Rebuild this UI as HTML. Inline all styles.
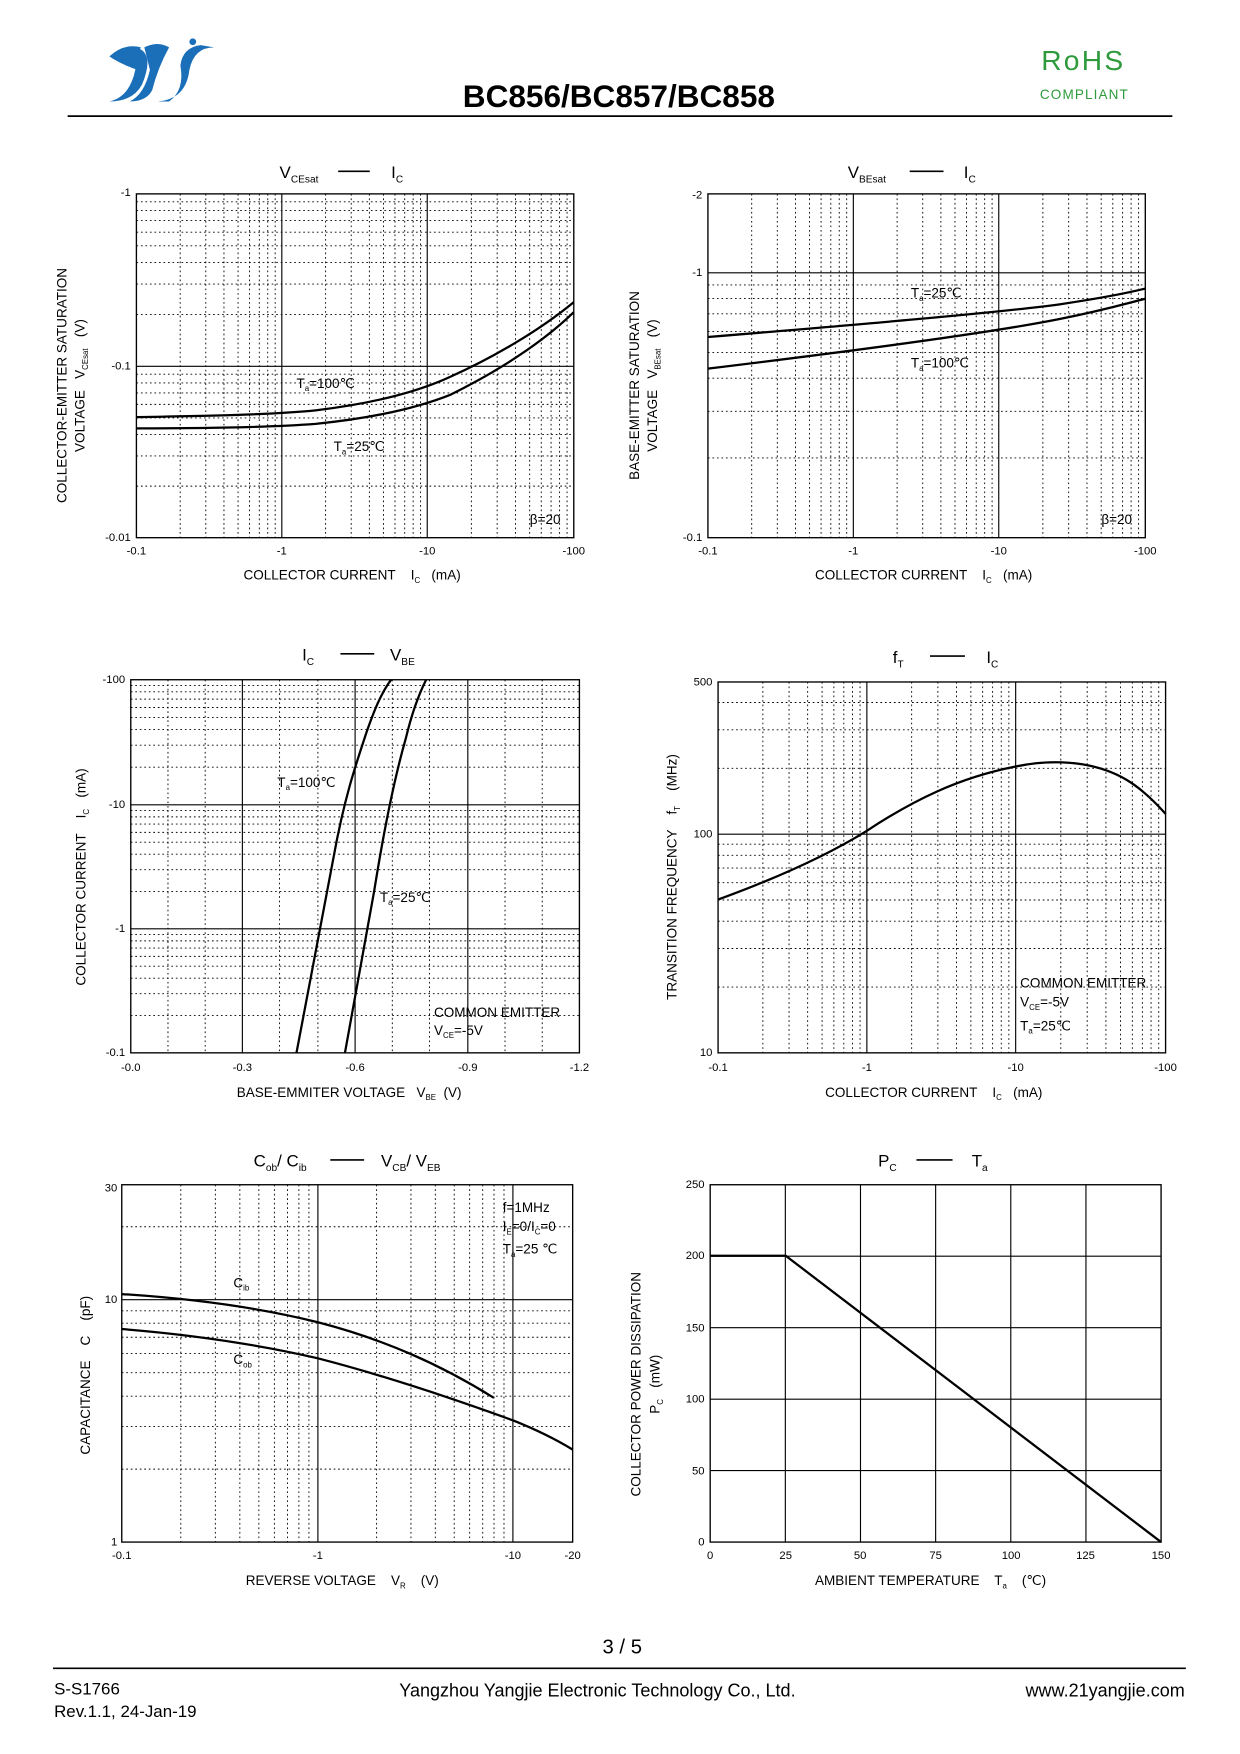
<!DOCTYPE html>
<html><head><meta charset="utf-8"><style>
html,body{margin:0;padding:0;background:#fff}
svg{display:block}
text{font-family:"Liberation Sans",sans-serif;fill:#000}
</style></head><body>
<svg id="s" width="1240" height="1754" viewBox="0 0 1100 1556" xmlns="http://www.w3.org/2000/svg">
<g id="grid"></g>
<!-- header -->
<path d="M97,50 Q110,38 125,42 Q118,55 122,62 Q110,58 100,52 Z M120,42 Q138,46 126,75 Q118,90 97,90 Q115,86 120,62 Z" fill="#1a6fb8"/>
<path d="M128,42 Q140,36 150,42 Q140,60 135,80 Q130,90 115,90 Q128,84 133,62 Z" fill="#1a6fb8"/>
<path d="M150,90 Q164,80 160,58 Q162,42 178,40 L190,42 Q172,42 168,62 Q165,88 140,90 Z" fill="#1a6fb8"/>
<circle cx="171" cy="37" r="3" fill="#1a6fb8"/>
<text x="549" y="95" font-size="28" font-weight="bold" text-anchor="middle">BC856/BC857/BC858</text>
<text x="961" y="62" font-size="25" text-anchor="middle" style="fill:#2e9a3c;letter-spacing:2px">RoHS</text>
<text x="962" y="88" font-size="12" text-anchor="middle" style="fill:#2e9a3c;letter-spacing:1px">COMPLIANT</text>
<line x1="60" y1="103" x2="1040" y2="103" stroke="#000" stroke-width="1.5"/>
<!-- footer -->
<text x="552" y="1467" font-size="18" text-anchor="middle">3 / 5</text>
<line x1="47" y1="1480" x2="1052" y2="1480" stroke="#000" stroke-width="1.5"/>
<text x="48" y="1503" font-size="15">S-S1766</text>
<text x="48" y="1523" font-size="15">Rev.1.1, 24-Jan-19</text>
<text x="530" y="1505" font-size="16" text-anchor="middle">Yangzhou Yangjie Electronic Technology Co., Ltd.</text>
<text x="1051" y="1505" font-size="16" text-anchor="end">www.21yangjie.com</text>

<g font-size="11">
<!-- chart1 -->
<text x="248" y="158" font-size="15">V<tspan font-size="9" dy="4">CEsat</tspan></text>
<line x1="300" y1="152" x2="328" y2="152" stroke="#000" stroke-width="1.5"/>
<text x="347" y="158" font-size="15">I<tspan font-size="9" dy="4">C</tspan></text>
<text x="116" y="174" text-anchor="end" font-size="10">-1</text>
<text x="116" y="328" text-anchor="end" font-size="10">-0.1</text>
<text x="116" y="480" text-anchor="end" font-size="10">-0.01</text>
<text x="121" y="492" text-anchor="middle" font-size="10">-0.1</text>
<text x="250" y="492" text-anchor="middle" font-size="10">-1</text>
<text x="379" y="492" text-anchor="middle" font-size="10">-10</text>
<text x="509" y="492" text-anchor="middle" font-size="10">-100</text>
<text x="216" y="514" font-size="12">COLLECTOR CURRENT&#160;&#160;&#160; I<tspan font-size="7" dy="3">C</tspan><tspan dy="-3">&#160;&#160; (mA)</tspan></text>
<text transform="translate(59,342) rotate(-90)" font-size="12" text-anchor="middle">COLLECTOR-EMITTER SATURATION</text>
<text transform="translate(75,342) rotate(-90)" font-size="12" text-anchor="middle">VOLTAGE&#160;&#160; V<tspan font-size="7" dy="3">CEsat</tspan><tspan dy="-3">&#160;&#160; (V)</tspan></text>
<text x="263" y="344" font-size="12">T<tspan font-size="7" dy="3">a</tspan><tspan dy="-3">=100℃</tspan></text>
<text x="296" y="400" font-size="12">T<tspan font-size="7" dy="3">a</tspan><tspan dy="-3">=25℃</tspan></text>
<text x="470" y="465" font-size="12">β=20</text>
<path d="M121,370 C180,369 240,368 280,364 C330,358 370,348 400,334 C440,316 480,292 509,268" fill="none" stroke="#000" stroke-width="2"/>
<path d="M121,380 C180,380 240,379 280,376 C330,371 370,362 400,350 C440,330 480,305 509,277" fill="none" stroke="#000" stroke-width="2"/>

<!-- chart2 -->
<text x="752" y="158" font-size="15">V<tspan font-size="9" dy="4">BEsat</tspan></text>
<line x1="807" y1="152" x2="837" y2="152" stroke="#000" stroke-width="1.5"/>
<text x="855" y="158" font-size="15">I<tspan font-size="9" dy="4">C</tspan></text>
<text x="623" y="176" text-anchor="end" font-size="10">-2</text>
<text x="623" y="245" text-anchor="end" font-size="10">-1</text>
<text x="623" y="480" text-anchor="end" font-size="10">-0.1</text>
<text x="628" y="492" text-anchor="middle" font-size="10">-0.1</text>
<text x="757" y="492" text-anchor="middle" font-size="10">-1</text>
<text x="886" y="492" text-anchor="middle" font-size="10">-10</text>
<text x="1016" y="492" text-anchor="middle" font-size="10">-100</text>
<text x="723" y="514" font-size="12">COLLECTOR CURRENT&#160;&#160;&#160; I<tspan font-size="7" dy="3">C</tspan><tspan dy="-3">&#160;&#160; (mA)</tspan></text>
<text transform="translate(567,342) rotate(-90)" font-size="12" text-anchor="middle">BASE-EMITTER SATURATION</text>
<text transform="translate(583,342) rotate(-90)" font-size="12" text-anchor="middle">VOLTAGE&#160;&#160; V<tspan font-size="7" dy="3">BEsat</tspan><tspan dy="-3">&#160;&#160; (V)</tspan></text>
<text x="808" y="264" font-size="12">T<tspan font-size="7" dy="3">a</tspan><tspan dy="-3">=25℃</tspan></text>
<text x="808" y="326" font-size="12">T<tspan font-size="7" dy="3">a</tspan><tspan dy="-3">=100℃</tspan></text>
<text x="977" y="465" font-size="12">β=20</text>
<path d="M628,299 C760,288 880,278 940,270 C980,264 1000,260 1016,256" fill="none" stroke="#000" stroke-width="2"/>
<path d="M628,327 C760,311 880,295 940,283 C980,275 1000,269 1016,265" fill="none" stroke="#000" stroke-width="2"/>

<!-- chart3 -->
<text x="268" y="586" font-size="15">I<tspan font-size="9" dy="4">C</tspan></text>
<line x1="302" y1="580" x2="332" y2="580" stroke="#000" stroke-width="1.5"/>
<text x="346" y="586" font-size="15">V<tspan font-size="9" dy="4">BE</tspan></text>
<text x="111" y="606" text-anchor="end" font-size="10">-100</text>
<text x="111" y="717" text-anchor="end" font-size="10">-10</text>
<text x="111" y="827" text-anchor="end" font-size="10">-1</text>
<text x="111" y="937" text-anchor="end" font-size="10">-0.1</text>
<text x="116" y="950" text-anchor="middle" font-size="10">-0.0</text>
<text x="215" y="950" text-anchor="middle" font-size="10">-0.3</text>
<text x="315" y="950" text-anchor="middle" font-size="10">-0.6</text>
<text x="415" y="950" text-anchor="middle" font-size="10">-0.9</text>
<text x="514" y="950" text-anchor="middle" font-size="10">-1.2</text>
<text x="210" y="973" font-size="12">BASE-EMMITER VOLTAGE&#160;&#160; V<tspan font-size="7" dy="3">BE</tspan><tspan dy="-3">&#160; (V)</tspan></text>
<text transform="translate(76,778) rotate(-90)" font-size="12" text-anchor="middle">COLLECTOR CURRENT&#160;&#160;&#160; I<tspan font-size="7" dy="3">C</tspan><tspan dy="-3">&#160;&#160; (mA)</tspan></text>
<text x="246" y="698" font-size="12">T<tspan font-size="7" dy="3">a</tspan><tspan dy="-3">=100℃</tspan></text>
<text x="337" y="800" font-size="12">T<tspan font-size="7" dy="3">a</tspan><tspan dy="-3">=25℃</tspan></text>
<text x="385" y="902" font-size="12">COMMON EMITTER</text>
<text x="385" y="918" font-size="12">V<tspan font-size="7" dy="3">CE</tspan><tspan dy="-3">=-5V</tspan></text>
<path d="M263,934 L296,760 C305,710 315,680 325,650 C332,630 338,615 347,603" fill="none" stroke="#000" stroke-width="2"/>
<path d="M306,934 L332,790 C340,740 350,690 360,655 C366,630 372,615 378,603" fill="none" stroke="#000" stroke-width="2"/>

<!-- chart4 -->
<text x="792" y="588" font-size="15">f<tspan font-size="9" dy="4">T</tspan></text>
<line x1="825" y1="582" x2="856" y2="582" stroke="#000" stroke-width="1.5"/>
<text x="875" y="588" font-size="15">I<tspan font-size="9" dy="4">C</tspan></text>
<text x="632" y="608" text-anchor="end" font-size="10">500</text>
<text x="632" y="743" text-anchor="end" font-size="10">100</text>
<text x="632" y="937" text-anchor="end" font-size="10">10</text>
<text x="637" y="950" text-anchor="middle" font-size="10">-0.1</text>
<text x="769" y="950" text-anchor="middle" font-size="10">-1</text>
<text x="901" y="950" text-anchor="middle" font-size="10">-10</text>
<text x="1034" y="950" text-anchor="middle" font-size="10">-100</text>
<text x="732" y="973" font-size="12">COLLECTOR CURRENT&#160;&#160;&#160; I<tspan font-size="7" dy="3">C</tspan><tspan dy="-3">&#160;&#160; (mA)</tspan></text>
<text transform="translate(600,778) rotate(-90)" font-size="12" text-anchor="middle">TRANSITION FREQUENCY&#160;&#160;&#160; f<tspan font-size="7" dy="3">T</tspan><tspan dy="-3">&#160;&#160;&#160; (MHz)</tspan></text>
<text x="905" y="876" font-size="12">COMMON EMITTER</text>
<text x="905" y="893" font-size="12">V<tspan font-size="7" dy="3">CE</tspan><tspan dy="-3">=-5V</tspan></text>
<text x="905" y="914" font-size="12">T<tspan font-size="7" dy="3">a</tspan><tspan dy="-3">=25℃</tspan></text>
<path d="M637,798 C700,775 740,755 769,737 C810,710 850,690 901,680 C920,676 940,675 960,678 C990,683 1010,695 1034,722" fill="none" stroke="#000" stroke-width="2"/>

<!-- chart5 -->
<text x="225" y="1035" font-size="15">C<tspan font-size="9" dy="4">ob</tspan><tspan dy="-4">/ C</tspan><tspan font-size="9" dy="4">ib</tspan></text>
<line x1="293" y1="1029" x2="323" y2="1029" stroke="#000" stroke-width="1.5"/>
<text x="338" y="1035" font-size="15">V<tspan font-size="9" dy="4">CB</tspan><tspan dy="-4">/ V</tspan><tspan font-size="9" dy="4">EB</tspan></text>
<text x="104" y="1057" text-anchor="end" font-size="10">30</text>
<text x="104" y="1156" text-anchor="end" font-size="10">10</text>
<text x="104" y="1371" text-anchor="end" font-size="10">1</text>
<text x="108" y="1383" text-anchor="middle" font-size="10">-0.1</text>
<text x="282" y="1383" text-anchor="middle" font-size="10">-1</text>
<text x="455" y="1383" text-anchor="middle" font-size="10">-10</text>
<text x="508" y="1383" text-anchor="middle" font-size="10">-20</text>
<text x="218" y="1406" font-size="12">REVERSE VOLTAGE&#160;&#160;&#160; V<tspan font-size="7" dy="3">R</tspan><tspan dy="-3">&#160;&#160;&#160; (V)</tspan></text>
<text transform="translate(80,1220) rotate(-90)" font-size="12" text-anchor="middle">CAPACITANCE&#160;&#160;&#160; C&#160;&#160;&#160; (pF)</text>
<text x="446" y="1075" font-size="12">f=1MHz</text>
<text x="446" y="1092" font-size="12">I<tspan font-size="7" dy="3">E</tspan><tspan dy="-3">=0/I</tspan><tspan font-size="7" dy="3">C</tspan><tspan dy="-3">=0</tspan></text>
<text x="446" y="1112" font-size="12">T<tspan font-size="7" dy="3">a</tspan><tspan dy="-3">=25 ℃</tspan></text>
<text x="207" y="1142" font-size="12">C<tspan font-size="7" dy="3">ib</tspan></text>
<text x="207" y="1210" font-size="12">C<tspan font-size="7" dy="3">ob</tspan></text>
<path d="M108,1148 C170,1152 230,1160 282,1173 C340,1188 390,1210 438,1240" fill="none" stroke="#000" stroke-width="2"/>
<path d="M108,1179 C170,1184 230,1193 282,1205 C340,1220 400,1240 455,1260 C480,1270 495,1278 508,1286" fill="none" stroke="#000" stroke-width="2"/>

<!-- chart6 -->
<text x="779" y="1035" font-size="15">P<tspan font-size="9" dy="4">C</tspan></text>
<line x1="813" y1="1029" x2="845" y2="1029" stroke="#000" stroke-width="1.5"/>
<text x="862" y="1035" font-size="15">T<tspan font-size="9" dy="4">a</tspan></text>
<text x="625" y="1054" text-anchor="end" font-size="10">250</text>
<text x="625" y="1117" text-anchor="end" font-size="10">200</text>
<text x="625" y="1181" text-anchor="end" font-size="10">150</text>
<text x="625" y="1244" text-anchor="end" font-size="10">100</text>
<text x="625" y="1308" text-anchor="end" font-size="10">50</text>
<text x="625" y="1371" text-anchor="end" font-size="10">0</text>
<text x="630" y="1383" text-anchor="middle" font-size="10">0</text>
<text x="697" y="1383" text-anchor="middle" font-size="10">25</text>
<text x="763" y="1383" text-anchor="middle" font-size="10">50</text>
<text x="830" y="1383" text-anchor="middle" font-size="10">75</text>
<text x="897" y="1383" text-anchor="middle" font-size="10">100</text>
<text x="963" y="1383" text-anchor="middle" font-size="10">125</text>
<text x="1030" y="1383" text-anchor="middle" font-size="10">150</text>
<text x="723" y="1406" font-size="12">AMBIENT TEMPERATURE&#160;&#160;&#160; T<tspan font-size="7" dy="3">a</tspan><tspan dy="-3">&#160;&#160;&#160; (℃)</tspan></text>
<text transform="translate(568,1228) rotate(-90)" font-size="12" text-anchor="middle">COLLECTOR POWER DISSIPATION</text>
<text transform="translate(585,1228) rotate(-90)" font-size="12" text-anchor="middle">P<tspan font-size="7" dy="3">C</tspan><tspan dy="-3">&#160;&#160; (mW)</tspan></text>
<path d="M630,1114 L697,1114 L1030,1368" fill="none" stroke="#000" stroke-width="2"/>
</g>
</svg>
<script>
var g=document.getElementById('grid'),NS='http://www.w3.org/2000/svg';
function L(x1,y1,x2,y2,dot){var l=document.createElementNS(NS,'line');l.setAttribute('x1',x1);l.setAttribute('y1',y1);l.setAttribute('x2',x2);l.setAttribute('y2',y2);l.setAttribute('stroke','#000');l.setAttribute('stroke-width',dot?0.8:1);if(dot)l.setAttribute('stroke-dasharray','1.5,2.5');g.appendChild(l);}
function R(x0,y0,x1,y1){var r=document.createElementNS(NS,'rect');r.setAttribute('x',x0);r.setAttribute('y',y0);r.setAttribute('width',x1-x0);r.setAttribute('height',y1-y0);r.setAttribute('fill','none');r.setAttribute('stroke','#000');r.setAttribute('stroke-width',1.2);g.appendChild(r);}
function logX(y0,y1,pts,xmax){for(var i=0;i<pts.length-1;i++){var a=pts[i],b=pts[i+1];for(var k=2;k<=9;k++){var x=a+(b-a)*Math.log10(k);if(x<xmax-1)L(x,y0,x,y1,1);}if(i>0&&a<xmax-1)L(a,y0,a,y1,0);}}
function logY(x0,x1,pts,ymin){for(var i=0;i<pts.length-1;i++){var a=pts[i],b=pts[i+1];for(var k=2;k<=9;k++){var y=a-(a-b)*Math.log10(k);if(y>ymin+1)L(x0,y,x1,y,1);}if(i>0&&a>ymin+1)L(x0,a,x1,a,0);}}
// chart1
logX(172,477,[121,250,379,509],509);logY(121,509,[477,325,172],172);R(121,172,509,477);
// chart2
logX(172,477,[628,757,886,1016],1016);logY(628,1016,[477,242,7],172);R(628,172,1016,477);
// chart3
[215,315,415].forEach(function(x){L(x,603,x,934,0)});[149,182,248,282,348,381,448,481].forEach(function(x){L(x,603,x,934,1)});
logY(116,514,[934,824,714,603],603);R(116,603,514,934);
// chart4
logX(605,934,[637,769,901,1034],1034);logY(637,1034,[934,740,546],605);R(637,605,1034,934);
// chart5
logX(1051,1368,[108,282,455,628],508);logY(108,508,[1368,1153,938],1051);R(108,1051,508,1368);
// chart6
for(var i=1;i<6;i++)L(630+i*66.67,1051,630+i*66.67,1368,0);for(var j=1;j<5;j++)L(630,1368-j*63.4,1030,1368-j*63.4,0);R(630,1051,1030,1368);
</script>
</body></html>
